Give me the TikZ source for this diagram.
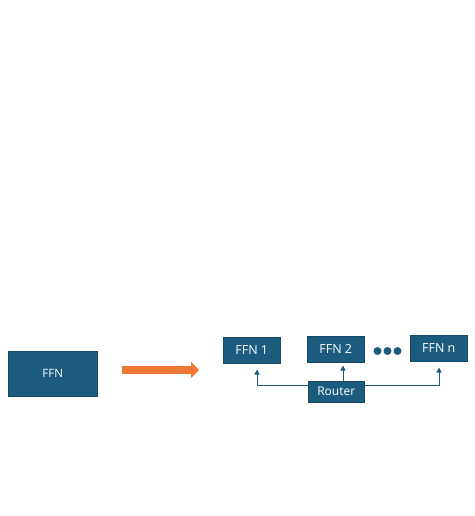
\documentclass[tikz,border=0pt]{standalone}
\usepackage{fontspec}
\setmainfont{Open Sans}
\usetikzlibrary{arrows.meta}
\definecolor{boxblue}{HTML}{1B5C7E}
\definecolor{arrorange}{HTML}{EE7733}
\begin{document}
\begin{tikzpicture}[x=1pt,y=-1pt,
  box/.style={fill=boxblue,draw=boxblue!80!black,line width=0.5pt,text=white,inner sep=0pt,anchor=north west},
  link/.style={draw=boxblue,line width=1pt,-{Triangle[length=5pt,width=5pt]}}]
\useasboundingbox (0,0) rectangle (474,516);
\node[box,minimum width=89pt,minimum height=45pt,font=\fontsize{11.5}{13}\selectfont] (ffn) at (8,351) {FFN};
\coordinate (as) at (122,370);
\coordinate (ae) at (199,370);
\draw[arrorange,line width=8pt,-{Triangle[length=8pt,width=16pt]}] (as) -- (ae);
\node[box,minimum width=57pt,minimum height=26pt,font=\fontsize{12.5}{14}\selectfont] (f1) at (223,337) {FFN 1};
\node[box,minimum width=57pt,minimum height=26pt,font=\fontsize{12.5}{14}\selectfont] (f2) at (307,336) {FFN 2};
\node[box,minimum width=57pt,minimum height=26pt,font=\fontsize{12.5}{14}\selectfont] (fn) at (410,335) {FFN n};
\node[box,minimum width=56pt,minimum height=21pt,font=\fontsize{12}{14}\selectfont] (r) at (308,381) {Router};
\foreach \i/\x in {1/377.5,2/387.5,3/397.5}{\fill[boxblue] (\x,351) circle (4pt) coordinate (d\i);}
\draw[link] (r.west |- 0,385) -| ([yshift=-6pt]f1.south -| 257,0);
\draw[link] (r.north -| 343,0) -- ([yshift=-3pt]f2.south -| 343,0);
\draw[link] (r.east |- 0,385) -| ([yshift=-6pt]fn.south -| 439,0);
\end{tikzpicture}
\end{document}
